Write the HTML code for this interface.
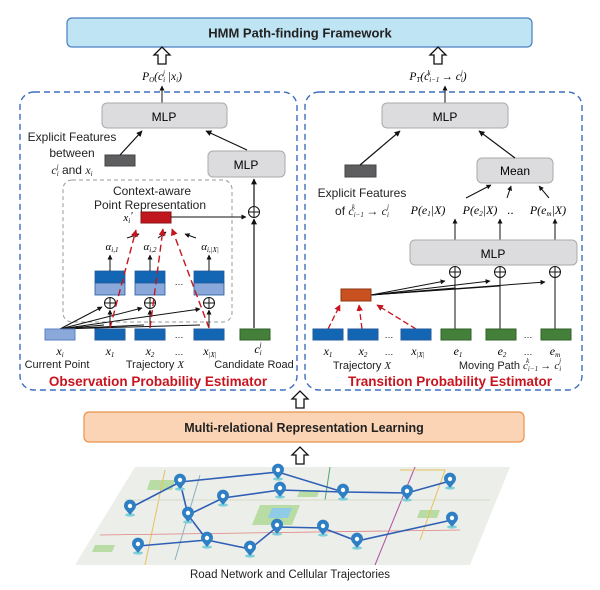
<!DOCTYPE html>
<html><head><meta charset="utf-8"><style>
html,body{margin:0;padding:0;background:#fff;}
svg{display:block;}
text{font-family:"Liberation Sans",sans-serif;}
.m{font-family:"Liberation Serif",serif;font-style:italic;}
</style></head><body>
<svg width="600" height="590" viewBox="0 0 600 590" xmlns="http://www.w3.org/2000/svg">
<defs>
<marker id="a" viewBox="0 0 10 10" refX="9" refY="5" markerWidth="5" markerHeight="5" orient="auto"><path d="M0,0L10,5L0,10z" fill="#111"/></marker>
<marker id="r" viewBox="0 0 10 10" refX="9" refY="5" markerWidth="5" markerHeight="5" orient="auto"><path d="M0,0L10,5L0,10z" fill="#c8141e"/></marker>
<g id="hollow"><path d="M-4,14 L-4,5 L-8,5 L0,-3 L8,5 L4,5 L4,14 Z" fill="#fff" stroke="#111" stroke-width="1.3"/></g>
<g id="plus"><circle r="5.5" fill="#fff" stroke="#111" stroke-width="1"/><path d="M-5.5,0H5.5M0,-5.5V5.5" stroke="#111" stroke-width="1"/></g>
<g id="pin"><ellipse cx="0" cy="7" rx="5" ry="1.6" fill="#7fd0d8"/><path d="M0,7 L-5,1 A6,6 0 1 1 5,1 Z" fill="#2f7fc4"/><circle cx="0" cy="-2" r="2.2" fill="#fff"/></g>
</defs>

<!-- HMM -->
<rect x="67" y="18" width="465" height="29" rx="5" fill="#bfe4f4" stroke="#4a7fc1" stroke-width="1.2"/>
<text x="300" y="37.5" text-anchor="middle" font-size="13" font-weight="bold" fill="#222">HMM Path-finding Framework</text>
<use href="#hollow" x="162" y="50"/>
<use href="#hollow" x="438" y="50"/>
<text x="162" y="80" text-anchor="middle" font-size="11.5" class="m">P<tspan font-size="7" dy="2">O</tspan><tspan dy="-2">(c</tspan><tspan font-size="7" dy="2">i</tspan><tspan font-size="7" dx="-2" dy="-7">j</tspan><tspan dy="5"> |x</tspan><tspan font-size="7" dy="2">i</tspan><tspan dy="-2">)</tspan></text>
<text x="438" y="80" text-anchor="middle" font-size="11.5" class="m">P<tspan font-size="7" dy="2">T</tspan><tspan dy="-2">(c</tspan><tspan font-size="7" dy="2">i−1</tspan><tspan font-size="7" dx="-12" dy="-7">k</tspan><tspan dx="8" dy="5"> → c</tspan><tspan font-size="7" dy="2">i</tspan><tspan font-size="7" dx="-2" dy="-7">j</tspan><tspan dy="5">)</tspan></text>

<!-- dashed containers -->
<rect x="20" y="92" width="277" height="298" rx="14" fill="none" stroke="#3b6fc0" stroke-width="1.4" stroke-dasharray="6,4"/>
<rect x="305" y="92" width="277" height="298" rx="14" fill="none" stroke="#3b6fc0" stroke-width="1.4" stroke-dasharray="6,4"/>
<line x1="162" y1="103" x2="162" y2="86" stroke="#111" marker-end="url(#a)"/>
<line x1="445" y1="103" x2="445" y2="86" stroke="#111" marker-end="url(#a)"/>

<!-- LEFT -->
<rect x="102" y="103" width="125" height="25" rx="5" fill="#dcdcde" stroke="#aaa"/>
<text x="164" y="121" text-anchor="middle" font-size="12">MLP</text>
<rect x="208" y="151" width="77" height="26" rx="5" fill="#dcdcde" stroke="#aaa"/>
<text x="246" y="169" text-anchor="middle" font-size="12">MLP</text>
<line x1="247" y1="150" x2="206" y2="131" stroke="#111" stroke-width="1.2" marker-end="url(#a)"/>
<rect x="105" y="155" width="30" height="11" fill="#5e5d60" stroke="#444"/>
<line x1="120" y1="155" x2="142" y2="131" stroke="#111" stroke-width="1.2" marker-end="url(#a)"/>
<text x="72" y="141" text-anchor="middle" font-size="12" fill="#222">Explicit Features</text>
<text x="72" y="157" text-anchor="middle" font-size="12" fill="#222">between</text>
<text x="72" y="174" text-anchor="middle" font-size="12" fill="#222"><tspan class="m">c</tspan><tspan class="m" font-size="7" dy="2">i</tspan><tspan class="m" font-size="7" dx="-2" dy="-7">j</tspan><tspan dy="5"> and </tspan><tspan class="m">x</tspan><tspan class="m" font-size="7" dy="2">i</tspan></text>

<rect x="63" y="180" width="169" height="142" rx="9" fill="none" stroke="#999" stroke-dasharray="4,3"/>
<text x="152" y="195" text-anchor="middle" font-size="12" fill="#222">Context-aware</text>
<text x="150" y="209" text-anchor="middle" font-size="12" fill="#222">Point Representation</text>
<text x="128" y="221" text-anchor="middle" font-size="11" class="m">x<tspan font-size="7" dy="2">i</tspan><tspan dy="-4">′</tspan></text>
<rect x="141" y="212" width="30" height="11" fill="#c0171f" stroke="#8a1016"/>
<line x1="171" y1="217" x2="246" y2="217" stroke="#111" marker-end="url(#a)"/>
<use href="#plus" x="254" y="212"/>
<line x1="254" y1="328" x2="254" y2="219" stroke="#111" stroke-width="1.2" marker-end="url(#a)"/>
<line x1="254" y1="206" x2="254" y2="179" stroke="#111" stroke-width="1.2" marker-end="url(#a)"/>

<text x="112" y="250" text-anchor="middle" font-size="11" class="m">α<tspan font-size="7" dy="2">i,1</tspan></text>
<text x="150" y="250" text-anchor="middle" font-size="11" class="m">α<tspan font-size="7" dy="2">i,2</tspan></text>
<text x="210" y="250" text-anchor="middle" font-size="11" class="m">α<tspan font-size="7" dy="2">i,|X|</tspan></text>
<line x1="127" y1="238" x2="139" y2="234" stroke="#111" marker-end="url(#a)"/>
<line x1="158" y1="238" x2="166" y2="232" stroke="#111" marker-end="url(#a)"/>
<line x1="196" y1="238" x2="185" y2="234" stroke="#111" marker-end="url(#a)"/>

<g stroke="#245a9c" stroke-width="0.8">
<rect x="95" y="271" width="30" height="12" fill="#1266b4"/><rect x="95" y="283" width="30" height="12" fill="#8aa8da"/>
<rect x="135" y="271" width="30" height="12" fill="#1266b4"/><rect x="135" y="283" width="30" height="12" fill="#8aa8da"/>
<rect x="194" y="271" width="30" height="12" fill="#1266b4"/><rect x="194" y="283" width="30" height="12" fill="#8aa8da"/>
</g>
<text x="179" y="285" text-anchor="middle" font-size="9">…</text>
<g stroke="#111">
<line x1="110" y1="271" x2="110" y2="255" marker-end="url(#a)"/>
<line x1="150" y1="271" x2="150" y2="255" marker-end="url(#a)"/>
<line x1="209" y1="271" x2="209" y2="255" marker-end="url(#a)"/>
</g>
<use href="#plus" x="110" y="303"/><use href="#plus" x="150" y="303"/><use href="#plus" x="209" y="303"/>
<g stroke="#111">
<line x1="110" y1="328" x2="110" y2="310" marker-end="url(#a)"/>
<line x1="150" y1="328" x2="150" y2="310" marker-end="url(#a)"/>
<line x1="209" y1="328" x2="209" y2="310" marker-end="url(#a)"/>
<line x1="60" y1="329" x2="102" y2="307" marker-end="url(#a)"/>
<line x1="60" y1="329" x2="142" y2="308" marker-end="url(#a)"/>
<line x1="60" y1="329" x2="200" y2="309" marker-end="url(#a)"/>
<line x1="60" y1="329" x2="104" y2="325"/>
<line x1="60" y1="329" x2="144" y2="325"/>
<line x1="60" y1="329" x2="200" y2="325"/>
</g>
<g stroke="#c8141e" stroke-width="1.4" stroke-dasharray="7,4" fill="none">
<line x1="110" y1="328" x2="136" y2="230" marker-end="url(#r)"/>
<line x1="150" y1="328" x2="163" y2="229" marker-end="url(#r)"/>
<line x1="209" y1="328" x2="172" y2="229" marker-end="url(#r)"/>
</g>

<rect x="45" y="329" width="30" height="11" fill="#8aa8da" stroke="#5c82c0"/>
<rect x="95" y="329" width="30" height="11" fill="#1266b4" stroke="#245a9c"/>
<rect x="135" y="329" width="30" height="11" fill="#1266b4" stroke="#245a9c"/>
<rect x="194" y="329" width="30" height="11" fill="#1266b4" stroke="#245a9c"/>
<rect x="240" y="329" width="30" height="11" fill="#44803a" stroke="#2f6027"/>
<text x="179" y="338" text-anchor="middle" font-size="9">…</text>
<text x="60" y="355" text-anchor="middle" font-size="12" class="m">x<tspan font-size="7" dy="2">i</tspan></text>
<text x="110" y="355" text-anchor="middle" font-size="12" class="m">x<tspan font-size="7" dy="2">1</tspan></text>
<text x="150" y="355" text-anchor="middle" font-size="12" class="m">x<tspan font-size="7" dy="2">2</tspan></text>
<text x="179" y="355" text-anchor="middle" font-size="9">…</text>
<text x="210" y="355" text-anchor="middle" font-size="12" class="m">x<tspan font-size="7" dy="2">|X|</tspan></text>
<text x="258" y="353" text-anchor="middle" font-size="12" class="m">c<tspan font-size="7" dy="2">i</tspan><tspan font-size="7" dx="-2" dy="-8">j</tspan></text>
<text x="57" y="368" text-anchor="middle" font-size="11" fill="#222">Current Point</text>
<text x="155" y="368" text-anchor="middle" font-size="11" fill="#222">Trajectory <tspan class="m">X</tspan></text>
<text x="254" y="368" text-anchor="middle" font-size="11" fill="#222">Candidate Road</text>
<text x="158" y="386" text-anchor="middle" font-size="13.5" font-weight="bold" fill="#c8141e">Observation Probability Estimator</text>

<!-- RIGHT -->
<rect x="382" y="103" width="126" height="25" rx="5" fill="#dcdcde" stroke="#aaa"/>
<text x="445" y="121" text-anchor="middle" font-size="12">MLP</text>
<rect x="345" y="165" width="31" height="12" fill="#5e5d60" stroke="#444"/>
<line x1="360" y1="165" x2="400" y2="131" stroke="#111" stroke-width="1.2" marker-end="url(#a)"/>
<rect x="477" y="158" width="76" height="25" rx="5" fill="#dcdcde" stroke="#aaa"/>
<text x="515" y="175" text-anchor="middle" font-size="12">Mean</text>
<line x1="515" y1="158" x2="479" y2="131" stroke="#111" stroke-width="1.2" marker-end="url(#a)"/>
<text x="362" y="197" text-anchor="middle" font-size="12" fill="#222">Explicit Features</text>
<text x="362" y="215" text-anchor="middle" font-size="12" fill="#222">of <tspan class="m">c</tspan><tspan class="m" font-size="7" dy="2">i−1</tspan><tspan class="m" font-size="7" dx="-12" dy="-8">k</tspan><tspan dx="8" dy="6"> → </tspan><tspan class="m">c</tspan><tspan class="m" font-size="7" dy="2">i</tspan><tspan class="m" font-size="7" dx="-2" dy="-8">j</tspan></text>
<text x="428" y="214" text-anchor="middle" font-size="12" class="m">P(e<tspan font-size="7" dy="2">1</tspan><tspan dy="-2">|X)</tspan></text>
<text x="480" y="214" text-anchor="middle" font-size="12" class="m">P(e<tspan font-size="7" dy="2">2</tspan><tspan dy="-2">|X)</tspan></text>
<text x="507" y="214" font-size="12">..</text>
<text x="548" y="214" text-anchor="middle" font-size="12" class="m">P(e<tspan font-size="7" dy="2">m</tspan><tspan dy="-2">|X)</tspan></text>
<g stroke="#111">
<line x1="466" y1="198" x2="491" y2="185" marker-end="url(#a)"/>
<line x1="507" y1="198" x2="511" y2="186" marker-end="url(#a)"/>
<line x1="549" y1="198" x2="539" y2="186" marker-end="url(#a)"/>
<line x1="455" y1="240" x2="455" y2="219" marker-end="url(#a)"/>
<line x1="500" y1="240" x2="500" y2="219" marker-end="url(#a)"/>
<line x1="555" y1="240" x2="555" y2="219" marker-end="url(#a)"/>
</g>
<rect x="410" y="240" width="167" height="25" rx="5" fill="#dcdcde" stroke="#aaa"/>
<text x="493" y="258" text-anchor="middle" font-size="12">MLP</text>
<use href="#plus" x="455" y="272"/><use href="#plus" x="500" y="272"/><use href="#plus" x="555" y="272"/>
<g stroke="#111">
<line x1="455" y1="329" x2="455" y2="266" />
<line x1="500" y1="329" x2="500" y2="266" />
<line x1="555" y1="329" x2="555" y2="266" />
<line x1="371" y1="295" x2="445" y2="281" marker-end="url(#a)"/>
<line x1="371" y1="295" x2="490" y2="281" marker-end="url(#a)"/>
<line x1="371" y1="295" x2="545" y2="282" marker-end="url(#a)"/>
<line x1="371" y1="295" x2="455" y2="288"/>
<line x1="371" y1="295" x2="500" y2="286"/>
</g>
<rect x="341" y="289" width="30" height="12" fill="#c9501f" stroke="#8c3611"/>
<g stroke="#c8141e" stroke-width="1.3" stroke-dasharray="6,3">
<line x1="328" y1="329" x2="340" y2="305" marker-end="url(#r)"/>
<line x1="362" y1="329" x2="359" y2="305" marker-end="url(#r)"/>
<line x1="416" y1="329" x2="377" y2="305" marker-end="url(#r)"/>
</g>
<rect x="313" y="329" width="30" height="11" fill="#1266b4" stroke="#245a9c"/>
<rect x="348" y="329" width="30" height="11" fill="#1266b4" stroke="#245a9c"/>
<rect x="401" y="329" width="30" height="11" fill="#1266b4" stroke="#245a9c"/>
<rect x="441" y="329" width="30" height="11" fill="#44803a" stroke="#2f6027"/>
<rect x="486" y="329" width="30" height="11" fill="#44803a" stroke="#2f6027"/>
<rect x="541" y="329" width="30" height="11" fill="#44803a" stroke="#2f6027"/>
<text x="389" y="338" text-anchor="middle" font-size="9">…</text>
<text x="528" y="338" text-anchor="middle" font-size="9">…</text>
<text x="328" y="355" text-anchor="middle" font-size="12" class="m">x<tspan font-size="7" dy="2">1</tspan></text>
<text x="363" y="355" text-anchor="middle" font-size="12" class="m">x<tspan font-size="7" dy="2">2</tspan></text>
<text x="389" y="355" text-anchor="middle" font-size="9">…</text>
<text x="418" y="355" text-anchor="middle" font-size="12" class="m">x<tspan font-size="7" dy="2">|X|</tspan></text>
<text x="458" y="355" text-anchor="middle" font-size="12" class="m">e<tspan font-size="7" dy="2">1</tspan></text>
<text x="502" y="355" text-anchor="middle" font-size="12" class="m">e<tspan font-size="7" dy="2">2</tspan></text>
<text x="528" y="355" text-anchor="middle" font-size="9">…</text>
<text x="555" y="355" text-anchor="middle" font-size="12" class="m">e<tspan font-size="7" dy="2">m</tspan></text>
<text x="362" y="369" text-anchor="middle" font-size="11" fill="#222">Trajectory <tspan class="m">X</tspan></text>
<text x="510" y="369" text-anchor="middle" font-size="11" fill="#222">Moving Path <tspan class="m">c</tspan><tspan class="m" font-size="7" dy="2">i−1</tspan><tspan class="m" font-size="7" dx="-12" dy="-8">k</tspan><tspan dx="8" dy="6"> → </tspan><tspan class="m">c</tspan><tspan class="m" font-size="7" dy="2">i</tspan><tspan class="m" font-size="7" dx="-2" dy="-8">j</tspan></text>
<text x="450" y="386" text-anchor="middle" font-size="13.5" font-weight="bold" fill="#c8141e">Transition Probability Estimator</text>

<!-- representation learning -->
<use href="#hollow" x="300" y="394"/>
<rect x="84" y="412" width="440" height="30" rx="5" fill="#fbd4b6" stroke="#e8924e" stroke-width="1.2"/>
<text x="304" y="432" text-anchor="middle" font-size="12.5" font-weight="bold" fill="#222">Multi-relational Representation Learning</text>
<use href="#hollow" x="300" y="450"/>

<!-- map -->
<polygon points="135,467 510,467 470,565 75,565" fill="#eceeea"/>
<g fill="#b9dca5">
<polygon points="150,480 175,480 172,490 147,490"/><polygon points="260,505 300,505 292,525 252,525"/>
<polygon points="420,510 440,510 437,518 417,518"/><polygon points="300,490 320,490 317,497 297,497"/>
<polygon points="95,545 115,545 112,552 92,552"/>
</g>
<polygon points="272,508 292,508 288,518 268,518" fill="#8fcbe6"/>
<g fill="none" stroke-width="1">
<path d="M165,470 L145,565" stroke="#e8c25a"/><path d="M415,467 L375,565" stroke="#b04fa0"/>
<path d="M330,467 L325,500" stroke="#4fa86a"/><path d="M100,535 L460,530" stroke="#e08080" stroke-width="0.8"/>
<path d="M125,500 L490,500" stroke="#d8d8c8"/><path d="M200,475 L175,560" stroke="#8ab0c0"/>
<path d="M400,470 L445,470 L420,540" stroke="#e8c25a"/>
</g>
<g fill="none" stroke="#2f5fb5" stroke-width="1.6">
<polyline points="130,508 180,482 278,472 343,492 407,493 450,481"/>
<polyline points="180,482 188,515 223,498 280,490 343,492"/>
<polyline points="188,515 207,540"/>
<polyline points="138,546 207,540 250,549 277,527 323,528 357,541 452,520"/>
</g>
<use href="#pin" x="130" y="508"/><use href="#pin" x="180" y="482"/><use href="#pin" x="278" y="472"/>
<use href="#pin" x="343" y="492"/><use href="#pin" x="407" y="493"/><use href="#pin" x="450" y="481"/>
<use href="#pin" x="188" y="515"/><use href="#pin" x="223" y="498"/><use href="#pin" x="280" y="490"/>
<use href="#pin" x="207" y="540"/><use href="#pin" x="138" y="546"/><use href="#pin" x="250" y="549"/>
<use href="#pin" x="277" y="527"/><use href="#pin" x="323" y="528"/><use href="#pin" x="357" y="541"/>
<use href="#pin" x="452" y="520"/>
<text x="290" y="578" text-anchor="middle" font-size="11.5" fill="#222">Road Network and Cellular Trajectories</text>
</svg>
</body></html>
